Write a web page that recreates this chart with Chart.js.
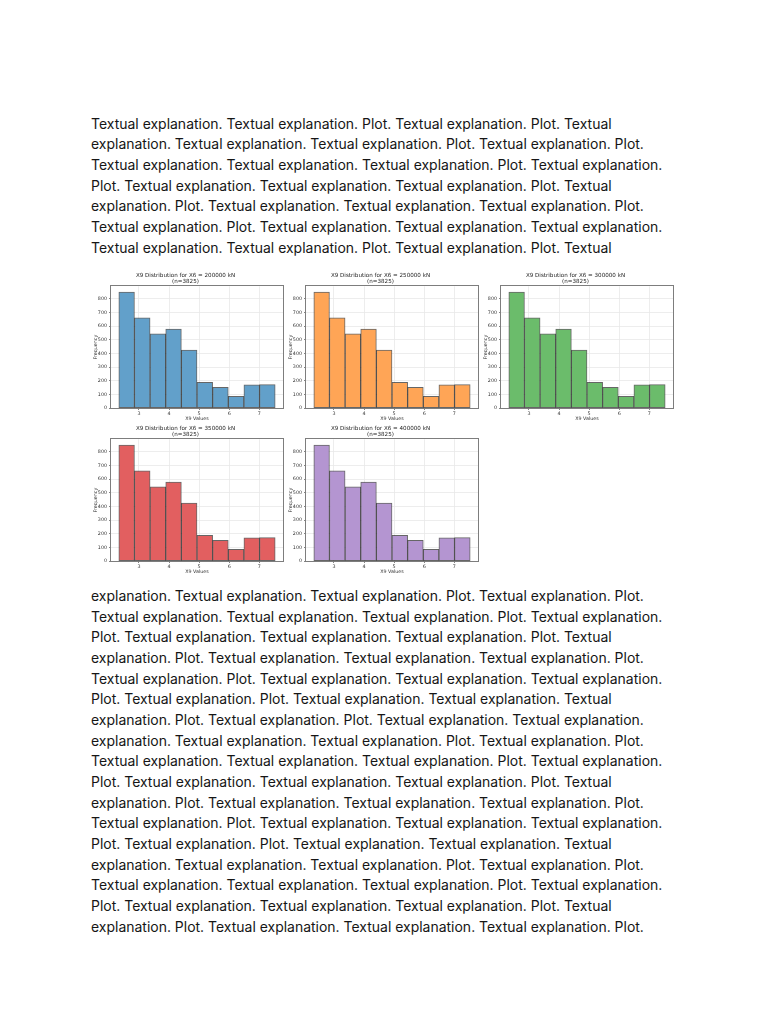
<!DOCTYPE html>
<html>
<head>
<meta charset="utf-8">
<script src="https://cdn.jsdelivr.net/npm/chart.js@4.4.1/dist/chart.umd.min.js"></script>
<style>
html,body{margin:0;padding:0;background:#fff;}
body{width:768px;height:1024px;position:relative;overflow:hidden;}
.para{position:absolute;left:91px;font-family:"Inter";font-size:13px;line-height:20.65px;color:#161616;white-space:pre;}
.cell{position:absolute;width:197px;height:153px;}
.cell canvas{display:block;}
</style>
</head>
<body>
<div id="p1" class="para"></div>
<div id="p2" class="para"></div>
<div id="cells"></div>
<script>
// ---------- DATA ----------
const topLines = [
  "Textual explanation. Textual explanation. Plot. Textual explanation. Plot. Textual",
  "explanation. Textual explanation. Textual explanation. Plot. Textual explanation. Plot.",
  "Textual explanation. Textual explanation. Textual explanation. Plot. Textual explanation.",
  "Plot. Textual explanation. Textual explanation. Textual explanation. Plot. Textual",
  "explanation. Plot. Textual explanation. Textual explanation. Textual explanation. Plot.",
  "Textual explanation. Plot. Textual explanation. Textual explanation. Textual explanation.",
  "Textual explanation. Textual explanation. Plot. Textual explanation. Plot. Textual"
];
const bottomLines = [
  "explanation. Textual explanation. Textual explanation. Plot. Textual explanation. Plot.",
  "Textual explanation. Textual explanation. Textual explanation. Plot. Textual explanation.",
  "Plot. Textual explanation. Textual explanation. Textual explanation. Plot. Textual",
  "explanation. Plot. Textual explanation. Textual explanation. Textual explanation. Plot.",
  "Textual explanation. Plot. Textual explanation. Textual explanation. Textual explanation.",
  "Plot. Textual explanation. Plot. Textual explanation. Textual explanation. Textual",
  "explanation. Plot. Textual explanation. Plot. Textual explanation. Textual explanation.",
  "explanation. Textual explanation. Textual explanation. Plot. Textual explanation. Plot.",
  "Textual explanation. Textual explanation. Textual explanation. Plot. Textual explanation.",
  "Plot. Textual explanation. Textual explanation. Textual explanation. Plot. Textual",
  "explanation. Plot. Textual explanation. Textual explanation. Textual explanation. Plot.",
  "Textual explanation. Plot. Textual explanation. Textual explanation. Textual explanation.",
  "Plot. Textual explanation. Plot. Textual explanation. Textual explanation. Textual",
  "explanation. Textual explanation. Textual explanation. Plot. Textual explanation. Plot.",
  "Textual explanation. Textual explanation. Textual explanation. Plot. Textual explanation.",
  "Plot. Textual explanation. Textual explanation. Textual explanation. Plot. Textual",
  "explanation. Plot. Textual explanation. Textual explanation. Textual explanation. Plot."
];

const x6Loads = ["200000", "250000", "300000", "350000", "400000"];
const sampleSizes = [3825, 3825, 3825, 3825, 3825];
const binEdges = [2.33, 2.85, 3.37, 3.89, 4.41, 4.93, 5.45, 5.97, 6.49, 7.01, 7.53];
const freq200 = [850, 662, 544, 578, 425, 189, 151, 85, 170, 171];
const freq250 = [850, 662, 544, 578, 425, 189, 151, 85, 170, 171];
const freq300 = [850, 662, 544, 578, 425, 189, 151, 85, 170, 171];
const freq350 = [850, 662, 544, 578, 425, 189, 151, 85, 170, 171];
const freq400 = [850, 662, 544, 578, 425, 189, 151, 85, 170, 171];
const xTicks = [3, 4, 5, 6, 7];
const yTicks = [0, 100, 200, 300, 400, 500, 600, 700, 800];
const xLimits = [2.07, 7.79];
const yLimits = [0, 892.5];

// ---------- STYLE ----------
const allFreqs = [freq200, freq250, freq300, freq350, freq400];
const barColors = ["#62a0ca", "#ffa556", "#6bbc6b", "#e25f60", "#b495d1"];

// ---------- TEXT ----------
(function layoutText(){
  const ctx = document.createElement('canvas').getContext('2d');
  const base = 13;
  const fam = '"Inter"';
  ctx.font = base + 'px ' + fam;
  const w = ctx.measureText(topLines[2]).width;
  const fs = base * 572 / w;
  ctx.font = fs + 'px ' + fam;
  const m = ctx.measureText('Textual');
  const a = m.fontBoundingBoxAscent, d = m.fontBoundingBoxDescent;
  const L = 20.65;
  const baseOff = (L - (a + d)) / 2 + a;
  const p1 = document.getElementById('p1'), p2 = document.getElementById('p2');
  [p1, p2].forEach(p => p.style.fontSize = fs + 'px');
  p1.textContent = topLines.join('\n');
  p2.textContent = bottomLines.join('\n');
  p1.style.top = (129.5 - baseOff) + 'px';
  p2.style.top = (602 - baseOff) + 'px';
})();

// ---------- CHARTS ----------
const framePlugin = {
  id: 'frame',
  afterDatasetsDraw(chart) {
    const {ctx, chartArea: a} = chart;
    ctx.save();
    ctx.strokeStyle = '#7d7d7d';
    ctx.lineWidth = 1;
    ctx.strokeRect(Math.round(a.left) - 0.5, Math.round(a.top) - 0.5,
                   Math.round(a.right) - Math.round(a.left) + 1, Math.round(a.bottom) - Math.round(a.top) + 1);
    ctx.restore();
  }
};

const tickFont = {family: 'DejaVu Sans', size: 4.8};
const cells = document.getElementById('cells');

allFreqs.forEach((freqs, idx) => {
  const col = idx % 3, row = Math.floor(idx / 3);
  const frameLeft = 111 + 195 * col;
  const frameTop = 286 + 153 * row;
  const div = document.createElement('div');
  div.className = 'cell';
  div.style.left = (frameLeft - 23) + 'px';
  div.style.top = (frameTop - 16) + 'px';
  const cv = document.createElement('canvas');
  cv.width = 197; cv.height = 153;
  div.appendChild(cv);
  cells.appendChild(div);

  const points = freqs.map((f, i) => ({x: (binEdges[i] + binEdges[i + 1]) / 2, y: f}));

  new Chart(cv, {
    type: 'bar',
    data: {
      datasets: [{
        data: points,
        backgroundColor: barColors[idx],
        borderColor: 'rgba(0,0,0,0.6)',
        borderWidth: 1,
        borderSkipped: false,
        barPercentage: 1,
        categoryPercentage: 1
      }]
    },
    options: {
      responsive: false,
      animation: false,
      devicePixelRatio: 1,
      layout: {padding: {left: 0, right: 2, top: 0, bottom: 0}},
      plugins: {
        legend: {display: false},
        tooltip: {enabled: false},
        title: {
          display: true,
          text: ['X9 Distribution for X6 = ' + x6Loads[idx] + ' kN', '(n=' + sampleSizes[idx] + ')'],
          font: {family: 'DejaVu Sans', size: 5.6, weight: 'normal', lineHeight: 1.1},
          color: '#222',
          padding: {top: 2, bottom: 2}
        }
      },
      scales: {
        x: {
          type: 'linear',
          min: xLimits[0], max: xLimits[1],
          offset: false,
          afterBuildTicks(s) { s.ticks = xTicks.map(v => ({value: v})); },
          ticks: {font: tickFont, color: '#333', padding: 1, maxRotation: 0, autoSkip: false},
          grid: {offset: false, color: '#e8e8e8', lineWidth: 0.8, tickLength: 2, tickColor: '#666'},
          border: {display: false},
          title: {display: true, text: 'X9 Values', font: tickFont, color: '#333', padding: {top: 0, bottom: 1}},
          afterFit(s) { s.height = 15; }
        },
        y: {
          type: 'linear',
          min: yLimits[0], max: yLimits[1],
          afterBuildTicks(s) { s.ticks = yTicks.map(v => ({value: v})); },
          ticks: {font: tickFont, color: '#333', padding: 2},
          grid: {color: '#e8e8e8', lineWidth: 0.8, tickLength: 2, tickColor: '#666'},
          border: {display: false},
          title: {display: true, text: 'Frequency', font: tickFont, color: '#333', padding: {top: 5, bottom: 0}},
          afterFit(s) { s.width = 23; }
        }
      }
    },
    plugins: [framePlugin]
  });
});
</script>
</body>
</html>
